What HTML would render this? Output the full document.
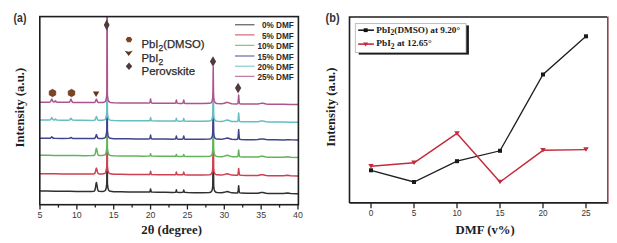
<!DOCTYPE html>
<html><head><meta charset="utf-8"><style>
html,body{margin:0;padding:0;background:#fff;width:617px;height:243px;overflow:hidden}
svg{display:block}
.sans{font-family:"Liberation Sans",sans-serif}
.serif{font-family:"Liberation Serif",serif}
</style></head><body>
<svg width="617" height="243" viewBox="0 0 617 243">
<rect width="617" height="243" fill="#fff"/>
<text x="13.6" y="22.1" class="sans" font-size="13" font-weight="bold" fill="#333" textLength="12.8" lengthAdjust="spacingAndGlyphs">(a)</text>
<defs><clipPath id="ca"><rect x="39.8" y="16.6" width="258.60" height="188.10"/></clipPath></defs>
<g clip-path="url(#ca)">
<clipPath id="tc0"><polygon points="38,174.00 40.00,174.00 47.37,174.06 54.74,174.12 62.11,174.18 69.49,174.25 76.86,174.30 84.23,174.36 91.60,174.35 93.92,174.19 94.77,173.73 95.29,172.60 96.10,169.03 96.39,168.44 96.69,169.03 97.72,173.22 98.20,173.92 98.97,174.21 102.55,174.26 104.65,173.77 105.24,173.29 105.68,172.59 106.34,170.05 107.08,165.56 108.04,171.22 108.81,173.20 109.44,173.78 110.32,174.15 113.71,174.51 121.09,174.66 128.46,174.74 135.83,174.81 143.20,174.87 149.58,174.75 149.98,174.20 150.57,171.54 151.16,174.21 151.57,174.77 157.94,175.00 165.31,175.06 172.69,175.11 175.52,174.93 175.82,174.45 176.37,172.35 176.92,174.46 177.22,174.94 180.06,175.17 182.90,174.99 183.19,174.51 183.74,172.41 184.30,174.52 184.59,175.00 187.43,175.24 194.80,175.30 202.17,175.34 209.54,175.10 211.02,174.56 211.86,173.43 212.38,171.59 213.23,166.48 214.08,171.61 214.59,173.45 215.44,174.59 216.91,175.16 221.48,175.42 224.29,174.91 226.24,174.20 227.42,174.08 231.66,175.41 235.82,175.61 237.11,175.52 237.70,175.28 238.11,173.94 238.66,168.69 239.03,172.19 239.32,174.59 239.80,175.43 241.31,175.66 246.40,175.75 253.77,175.82 257.79,175.74 261.14,175.09 262.84,175.03 266.16,175.74 268.51,175.93 275.89,176.01 283.26,176.04 287.57,175.51 290.63,175.97 298.00,176.20 300,176.20 300,210 38,210"/></clipPath><g clip-path="url(#tc0)"><path d="M40.00,191.00 47.37,191.08 54.74,191.16 62.11,191.24 69.49,191.31 76.86,191.39 84.23,191.45 91.60,191.44 93.92,191.20 94.40,190.96 94.77,190.50 95.29,188.82 96.10,183.46 96.39,182.57 96.69,183.46 97.72,189.75 98.20,190.79 98.97,191.24 102.40,191.39 103.73,191.23 104.65,190.91 105.24,190.44 105.68,189.73 106.34,187.20 106.75,183.94 106.82,179.26 107.01,8.00 107.15,8.00 107.41,183.95 108.04,188.37 108.41,189.60 108.89,190.45 109.51,190.98 110.40,191.33 113.71,191.68 121.09,191.85 128.46,191.95 135.83,192.03 143.20,192.11 149.58,192.02 149.98,191.50 150.57,188.99 151.16,191.52 151.57,192.04 157.94,192.27 165.31,192.35 172.69,192.42 175.52,192.25 175.82,191.81 176.37,189.83 176.92,191.82 177.22,192.27 180.06,192.49 182.90,192.33 183.19,191.89 183.74,189.91 184.30,191.90 184.59,192.35 187.43,192.58 194.80,192.66 202.17,192.72 209.54,192.49 210.91,192.03 211.75,191.06 212.34,189.18 212.75,186.29 213.23,132.88 213.71,186.30 214.11,189.20 214.70,191.09 215.55,192.08 216.91,192.57 221.48,192.85 224.29,192.34 226.24,191.63 227.42,191.51 231.66,192.85 235.90,193.06 237.15,192.96 237.70,192.71 238.11,191.27 238.66,185.65 239.03,189.40 239.32,191.97 239.80,192.87 241.31,193.12 246.40,193.23 253.77,193.31 257.79,193.24 261.14,192.60 262.84,192.55 266.16,193.26 268.51,193.46 275.89,193.56 283.26,193.60 287.57,193.09 290.63,193.55 298.00,193.80" fill="none" stroke="#303030" stroke-width="1.5" stroke-linejoin="round"/></g>
<clipPath id="tc1"><polygon points="38,155.60 40.00,155.60 47.37,155.66 54.74,155.72 62.11,155.78 69.49,155.83 76.86,155.89 84.23,155.94 91.60,155.92 93.92,155.71 94.77,155.13 95.29,153.72 96.10,149.26 96.39,148.52 96.69,149.26 97.72,154.49 98.20,155.36 98.97,155.73 102.47,155.83 104.65,155.34 105.24,154.86 105.68,154.16 106.34,151.62 107.08,147.13 108.04,152.79 108.81,154.77 109.44,155.35 110.32,155.72 113.71,156.08 121.09,156.23 128.46,156.31 135.83,156.37 143.20,156.43 149.58,156.36 149.98,155.98 150.57,154.10 151.16,155.99 151.57,156.38 157.94,156.55 165.31,156.61 172.69,156.67 175.52,156.54 175.82,156.20 176.37,154.72 176.92,156.21 177.22,156.55 180.06,156.72 182.90,156.60 183.19,156.26 183.74,154.78 184.30,156.27 184.59,156.61 187.43,156.78 194.80,156.84 202.17,156.88 209.54,156.63 211.02,156.09 211.86,154.96 212.38,153.13 213.23,148.01 214.08,153.14 214.59,154.98 215.44,156.13 216.91,156.69 221.48,156.95 224.29,156.44 226.24,155.73 227.42,155.60 231.66,156.93 235.82,157.14 237.11,157.05 237.70,156.80 238.11,155.46 238.66,150.21 239.03,153.71 239.32,156.11 239.80,156.95 241.31,157.18 246.40,157.27 253.77,157.33 257.79,157.25 261.14,156.60 262.84,156.54 266.16,157.25 268.51,157.44 275.89,157.52 283.26,157.54 287.57,157.01 290.63,157.47 298.00,157.70 300,157.70 300,210 38,210"/></clipPath><g clip-path="url(#tc1)"><path d="M40.00,173.70 47.37,173.76 54.74,173.82 62.11,173.88 69.49,173.95 76.86,174.00 84.23,174.06 91.60,174.05 93.92,173.89 94.77,173.43 95.29,172.30 96.10,168.73 96.39,168.14 96.69,168.73 97.72,172.92 98.20,173.62 98.97,173.91 102.55,173.96 104.65,173.47 105.24,172.99 105.68,172.29 106.34,169.75 106.75,166.49 106.82,161.82 106.97,23.07 107.01,8.00 107.15,8.00 107.41,166.50 108.04,170.92 108.41,172.15 108.89,172.99 109.51,173.53 110.40,173.87 113.71,174.21 121.09,174.36 128.46,174.44 135.83,174.51 143.20,174.57 149.58,174.45 149.98,173.90 150.57,171.24 151.16,173.91 151.57,174.47 157.94,174.70 165.31,174.76 172.69,174.81 175.52,174.63 175.82,174.15 176.37,172.05 176.92,174.16 177.22,174.64 180.06,174.87 182.90,174.69 183.19,174.21 183.74,172.11 184.30,174.22 184.59,174.70 187.43,174.94 194.80,175.00 202.17,175.04 209.54,174.80 210.91,174.33 211.75,173.36 212.31,171.66 212.75,168.61 213.23,120.18 213.71,168.62 214.15,171.67 214.70,173.39 215.55,174.37 216.91,174.86 221.48,175.12 224.29,174.61 226.24,173.90 227.42,173.78 231.66,175.11 235.82,175.31 237.11,175.22 237.70,174.98 238.11,173.64 238.66,168.39 239.03,171.89 239.32,174.29 239.80,175.13 241.31,175.36 246.40,175.45 253.77,175.52 257.79,175.44 261.14,174.79 262.84,174.73 266.16,175.44 268.51,175.63 275.89,175.71 283.26,175.74 287.57,175.21 290.63,175.67 298.00,175.90" fill="none" stroke="#cc4050" stroke-width="1.5" stroke-linejoin="round"/></g>
<clipPath id="tc2"><polygon points="38,138.60 40.00,138.60 47.37,138.63 50.32,138.49 51.79,137.17 53.12,138.45 54.74,138.66 62.11,138.74 69.49,138.67 70.96,137.80 72.54,138.71 76.86,138.83 84.23,138.87 91.60,138.88 94.03,138.78 94.88,138.49 95.36,137.77 96.39,134.93 97.64,138.19 98.12,138.62 98.97,138.79 102.73,138.74 104.68,138.23 105.24,137.78 105.68,137.07 106.34,134.53 107.08,130.03 108.04,135.70 108.81,137.67 109.44,138.25 110.32,138.62 113.71,138.97 121.09,139.11 128.46,139.17 135.83,139.22 143.20,139.27 148.21,139.27 149.58,139.11 149.98,138.46 150.57,135.32 151.16,138.47 151.57,139.12 152.93,139.30 157.94,139.37 165.31,139.42 172.69,139.45 174.82,139.41 175.52,139.22 175.82,138.66 176.37,136.19 176.92,138.67 177.22,139.23 177.92,139.43 180.06,139.49 182.19,139.45 182.90,139.27 183.19,138.71 183.74,136.24 184.30,138.72 184.59,139.28 185.29,139.48 187.43,139.55 194.80,139.60 202.17,139.63 209.54,139.37 211.02,138.83 211.86,137.70 212.38,135.86 213.23,130.74 214.08,135.87 214.59,137.71 215.44,138.85 216.91,139.42 221.48,139.67 224.29,139.15 226.24,138.44 227.42,138.31 231.66,139.63 236.08,139.80 237.19,139.65 237.70,139.32 238.11,137.40 238.66,129.90 239.03,134.90 239.32,138.33 239.51,139.12 239.80,139.52 241.31,139.84 246.40,139.95 253.77,140.00 257.79,139.91 261.14,139.26 262.84,139.20 266.16,139.90 268.51,140.09 275.89,140.15 283.26,140.18 287.57,139.93 290.63,140.17 298.00,140.30 300,140.30 300,210 38,210"/></clipPath><g clip-path="url(#tc2)"><path d="M40.00,155.30 47.37,155.36 54.74,155.42 62.11,155.48 69.49,155.53 76.86,155.59 84.23,155.64 91.60,155.62 93.92,155.41 94.77,154.83 95.29,153.42 96.10,148.96 96.39,148.22 96.69,148.96 97.72,154.19 98.20,155.06 98.97,155.43 102.47,155.53 104.65,155.04 105.24,154.56 105.68,153.86 106.34,151.32 106.75,148.07 106.82,143.39 106.97,8.00 107.19,8.00 107.41,148.07 108.04,152.49 108.41,153.72 108.89,154.56 109.51,155.10 110.40,155.44 113.71,155.78 121.09,155.93 128.46,156.01 135.83,156.07 143.20,156.13 149.58,156.06 149.98,155.68 150.57,153.80 151.16,155.69 151.57,156.08 157.94,156.25 165.31,156.31 172.69,156.37 175.52,156.24 175.82,155.90 176.37,154.42 176.92,155.91 177.22,156.25 180.06,156.42 182.90,156.30 183.19,155.96 183.74,154.48 184.30,155.97 184.59,156.31 187.43,156.48 194.80,156.54 202.17,156.58 209.54,156.33 210.91,155.87 211.75,154.90 212.31,153.19 212.75,150.17 213.23,106.71 213.71,150.18 214.15,153.20 214.70,154.92 215.55,155.90 216.91,156.39 221.48,156.65 224.29,156.14 226.24,155.43 227.42,155.30 231.66,156.63 235.82,156.84 237.11,156.75 237.70,156.50 238.11,155.16 238.66,149.91 239.03,153.41 239.32,155.81 239.80,156.65 241.31,156.88 246.40,156.97 253.77,157.03 257.79,156.95 261.14,156.30 262.84,156.24 266.16,156.95 268.51,157.14 275.89,157.22 283.26,157.24 287.57,156.71 290.63,157.17 298.00,157.40" fill="none" stroke="#62b45a" stroke-width="1.5" stroke-linejoin="round"/></g>
<clipPath id="tc3"><polygon points="38,120.29 40.00,120.29 47.37,120.33 49.55,120.27 50.32,120.09 50.80,119.60 51.79,117.89 53.16,120.02 54.01,120.25 54.74,120.00 55.48,119.39 56.36,120.16 56.88,120.35 62.11,120.47 68.01,120.48 69.49,120.31 70.96,118.56 71.99,119.99 72.54,120.38 76.86,120.59 84.23,120.66 91.60,120.68 94.03,120.59 94.88,120.30 95.36,119.58 96.39,116.74 97.64,120.00 98.12,120.44 98.97,120.61 102.73,120.56 104.68,120.06 105.24,119.60 105.68,118.90 106.34,116.36 107.08,111.86 108.04,117.53 108.81,119.50 109.44,120.09 110.32,120.45 113.71,120.81 121.09,120.96 128.46,121.04 135.83,121.11 143.20,121.17 149.58,121.05 149.98,120.50 150.57,117.84 151.16,120.51 151.57,121.07 157.94,121.30 165.31,121.36 172.69,121.41 175.52,121.23 175.82,120.75 176.37,118.65 176.92,120.76 177.22,121.24 180.06,121.47 182.90,121.29 183.19,120.81 183.74,118.71 184.30,120.82 184.59,121.30 187.43,121.54 194.80,121.60 202.17,121.64 209.54,121.40 211.02,120.86 211.86,119.73 212.38,117.89 213.23,112.78 214.08,117.91 214.59,119.75 215.44,120.89 216.91,121.46 221.48,121.72 224.29,121.21 226.24,120.50 227.42,120.38 231.66,121.71 236.08,121.90 237.26,121.79 237.78,121.51 238.14,119.96 238.66,113.19 239.03,118.17 239.32,120.96 239.77,121.70 241.24,121.95 246.40,122.05 253.77,122.12 257.79,122.04 261.14,121.39 262.84,121.33 266.16,122.04 268.51,122.23 275.89,122.31 283.26,122.37 290.63,122.44 298.00,122.50 300,122.50 300,210 38,210"/></clipPath><g clip-path="url(#tc3)"><path d="M40.00,138.30 47.37,138.33 50.32,138.19 51.79,136.87 53.12,138.15 54.74,138.36 62.11,138.44 69.49,138.37 70.96,137.50 72.54,138.41 76.86,138.53 84.23,138.57 91.60,138.58 94.03,138.48 94.88,138.19 95.36,137.47 96.39,134.63 97.64,137.89 98.12,138.32 98.97,138.49 102.73,138.44 104.68,137.93 105.24,137.48 105.68,136.77 106.34,134.23 106.75,130.97 106.82,126.29 106.97,8.00 107.19,8.00 107.41,130.98 108.04,135.40 108.41,136.62 108.89,137.46 109.51,138.00 110.40,138.33 113.71,138.67 121.09,138.81 128.46,138.87 135.83,138.92 143.20,138.97 148.21,138.97 149.58,138.81 149.98,138.16 150.57,135.02 151.16,138.17 151.57,138.82 152.93,139.00 157.94,139.07 165.31,139.12 172.69,139.15 174.82,139.11 175.52,138.92 175.82,138.36 176.37,135.89 176.92,138.37 177.22,138.93 177.92,139.13 180.06,139.19 182.19,139.15 182.90,138.97 183.19,138.41 183.74,135.94 184.30,138.42 184.59,138.98 185.29,139.18 187.43,139.25 194.80,139.30 202.17,139.33 209.54,139.07 210.91,138.60 211.75,137.63 212.31,135.92 212.75,132.93 213.23,94.44 213.71,132.93 214.15,135.93 214.70,137.65 215.55,138.63 216.91,139.12 221.48,139.37 224.29,138.85 226.24,138.14 227.42,138.01 231.66,139.33 236.08,139.50 237.19,139.35 237.70,139.02 238.11,137.10 238.66,129.60 239.03,134.60 239.32,138.03 239.51,138.82 239.80,139.22 241.31,139.54 246.40,139.65 253.77,139.70 257.79,139.61 261.14,138.96 262.84,138.90 266.16,139.60 268.51,139.79 275.89,139.85 283.26,139.88 287.57,139.63 290.63,139.87 298.00,140.00" fill="none" stroke="#40448a" stroke-width="1.5" stroke-linejoin="round"/></g>
<clipPath id="tc4"><polygon points="38,102.49 40.00,102.49 47.37,102.52 49.55,102.44 50.32,102.19 50.80,101.56 51.79,99.29 53.16,102.09 54.04,102.39 54.74,102.01 55.48,101.08 56.36,102.23 56.88,102.51 62.11,102.67 68.05,102.66 69.49,102.37 69.96,101.73 70.96,99.47 71.99,101.82 72.54,102.47 73.61,102.70 76.86,102.80 84.23,102.87 91.60,102.90 94.03,102.82 94.88,102.57 95.36,101.94 96.39,99.46 97.64,102.31 98.12,102.70 98.97,102.84 102.73,102.79 104.68,102.29 105.24,101.83 105.68,101.12 106.34,98.58 107.08,94.09 108.04,99.75 108.81,101.73 109.44,102.31 110.32,102.68 113.71,103.04 121.09,103.20 128.46,103.28 135.83,103.35 143.20,103.41 148.21,103.42 149.58,103.25 149.98,102.58 150.57,99.28 151.16,102.59 151.57,103.27 152.93,103.46 157.94,103.54 165.31,103.61 172.69,103.66 174.82,103.62 175.52,103.43 175.82,102.84 176.37,100.24 176.92,102.85 177.22,103.44 177.92,103.64 180.06,103.72 182.19,103.68 182.90,103.49 183.19,102.90 183.74,100.31 184.30,102.91 184.59,103.51 185.29,103.71 187.43,103.79 194.80,103.86 202.17,103.90 209.54,103.66 211.02,103.12 211.86,102.00 212.38,100.16 213.23,95.04 214.08,100.18 214.59,102.02 215.44,103.16 216.91,103.73 221.48,103.99 224.29,103.48 226.24,102.77 227.42,102.65 231.66,103.98 236.08,104.18 237.26,104.06 237.78,103.77 238.14,102.19 238.66,95.26 239.03,100.36 239.32,103.21 239.77,103.97 241.24,104.23 246.40,104.33 253.77,104.40 257.79,104.32 261.14,103.67 262.84,103.61 266.16,104.32 268.51,104.52 275.89,104.60 283.26,104.67 290.63,104.73 298.00,104.80 300,104.80 300,210 38,210"/></clipPath><g clip-path="url(#tc4)"><path d="M40.00,119.99 47.37,120.03 49.55,119.97 50.32,119.79 50.80,119.30 51.79,117.59 53.16,119.72 54.01,119.95 54.74,119.70 55.48,119.09 56.36,119.86 56.88,120.05 62.11,120.17 68.01,120.18 69.49,120.01 70.96,118.26 71.99,119.69 72.54,120.08 76.86,120.29 84.23,120.36 91.60,120.38 94.03,120.29 94.88,120.00 95.36,119.28 96.39,116.44 97.64,119.70 98.12,120.14 98.97,120.31 102.73,120.26 104.68,119.76 105.24,119.30 105.68,118.60 106.34,116.06 106.75,112.80 106.82,108.12 106.97,8.00 107.19,8.00 107.41,112.81 108.04,117.23 108.41,118.45 108.89,119.30 109.51,119.83 110.40,120.17 113.71,120.51 121.09,120.66 128.46,120.74 135.83,120.81 143.20,120.87 149.58,120.75 149.98,120.20 150.57,117.54 151.16,120.21 151.57,120.77 157.94,121.00 165.31,121.06 172.69,121.11 175.52,120.93 175.82,120.45 176.37,118.35 176.92,120.46 177.22,120.94 180.06,121.17 182.90,120.99 183.19,120.51 183.74,118.41 184.30,120.52 184.59,121.00 187.43,121.24 194.80,121.30 202.17,121.34 209.54,121.10 210.91,120.63 211.75,119.66 212.31,117.96 212.75,114.98 213.23,79.48 213.71,114.99 214.15,117.97 214.70,119.69 215.55,120.67 216.91,121.16 221.48,121.42 224.29,120.91 226.24,120.20 227.42,120.08 231.66,121.41 236.08,121.60 237.26,121.49 237.78,121.21 238.14,119.66 238.66,112.89 239.03,117.87 239.32,120.66 239.77,121.40 241.24,121.65 246.40,121.75 253.77,121.82 257.79,121.74 261.14,121.09 262.84,121.03 266.16,121.74 268.51,121.93 275.89,122.01 283.26,122.07 290.63,122.14 298.00,122.20" fill="none" stroke="#66bec0" stroke-width="1.5" stroke-linejoin="round"/></g>
<path d="M40.00,102.19 47.37,102.22 49.55,102.14 50.32,101.89 50.80,101.26 51.79,98.99 53.16,101.79 54.04,102.09 54.74,101.71 55.48,100.78 56.36,101.93 56.88,102.21 62.11,102.37 68.05,102.36 69.49,102.07 69.96,101.43 70.96,99.17 71.99,101.52 72.54,102.17 73.61,102.40 76.86,102.50 84.23,102.57 91.60,102.60 94.03,102.52 94.88,102.27 95.36,101.64 96.39,99.16 97.64,102.01 98.12,102.40 98.97,102.54 102.73,102.49 104.68,101.99 105.24,101.53 105.68,100.82 106.34,98.28 106.75,95.03 106.82,90.35 106.97,8.00 107.19,8.00 107.41,95.03 108.04,99.45 108.41,100.68 108.89,101.52 109.51,102.06 110.40,102.40 113.71,102.74 121.09,102.90 128.46,102.98 135.83,103.05 143.20,103.11 148.21,103.12 149.58,102.95 149.98,102.28 150.57,98.98 151.16,102.29 151.57,102.97 152.93,103.16 157.94,103.24 165.31,103.31 172.69,103.36 174.82,103.32 175.52,103.13 175.82,102.54 176.37,99.94 176.92,102.55 177.22,103.14 177.92,103.34 180.06,103.42 182.19,103.38 182.90,103.19 183.19,102.60 183.74,100.01 184.30,102.61 184.59,103.21 185.29,103.41 187.43,103.49 194.80,103.56 202.17,103.60 209.54,103.36 210.91,102.90 211.72,102.00 212.27,100.39 212.71,97.64 212.93,92.19 213.23,66.74 213.52,92.20 213.74,97.65 214.19,100.41 214.74,102.03 215.55,102.94 216.91,103.43 221.48,103.69 224.29,103.18 226.24,102.47 227.42,102.35 231.66,103.68 236.08,103.88 237.26,103.76 237.78,103.47 238.14,101.89 238.66,94.96 239.03,100.06 239.32,102.91 239.77,103.67 241.24,103.93 246.40,104.03 253.77,104.10 257.79,104.02 261.14,103.37 262.84,103.31 266.16,104.02 268.51,104.22 275.89,104.30 283.26,104.37 290.63,104.43 298.00,104.50" fill="none" stroke="#ac5490" stroke-width="1.5" stroke-linejoin="round"/>
</g>
<rect x="39.8" y="16.6" width="258.60" height="188.10" fill="none" stroke="#1e1e1e" stroke-width="1.6"/>
<line x1="40.00" y1="204.7" x2="40.00" y2="209.5" stroke="#222" stroke-width="1.3"/>
<line x1="58.43" y1="204.7" x2="58.43" y2="207.6" stroke="#222" stroke-width="1.3"/>
<line x1="76.86" y1="204.7" x2="76.86" y2="209.5" stroke="#222" stroke-width="1.3"/>
<line x1="95.29" y1="204.7" x2="95.29" y2="207.6" stroke="#222" stroke-width="1.3"/>
<line x1="113.71" y1="204.7" x2="113.71" y2="209.5" stroke="#222" stroke-width="1.3"/>
<line x1="132.14" y1="204.7" x2="132.14" y2="207.6" stroke="#222" stroke-width="1.3"/>
<line x1="150.57" y1="204.7" x2="150.57" y2="209.5" stroke="#222" stroke-width="1.3"/>
<line x1="169.00" y1="204.7" x2="169.00" y2="207.6" stroke="#222" stroke-width="1.3"/>
<line x1="187.43" y1="204.7" x2="187.43" y2="209.5" stroke="#222" stroke-width="1.3"/>
<line x1="205.86" y1="204.7" x2="205.86" y2="207.6" stroke="#222" stroke-width="1.3"/>
<line x1="224.29" y1="204.7" x2="224.29" y2="209.5" stroke="#222" stroke-width="1.3"/>
<line x1="242.71" y1="204.7" x2="242.71" y2="207.6" stroke="#222" stroke-width="1.3"/>
<line x1="261.14" y1="204.7" x2="261.14" y2="209.5" stroke="#222" stroke-width="1.3"/>
<line x1="279.57" y1="204.7" x2="279.57" y2="207.6" stroke="#222" stroke-width="1.3"/>
<line x1="298.00" y1="204.7" x2="298.00" y2="209.5" stroke="#222" stroke-width="1.3"/>
<g class="sans" font-size="8.8" fill="#3a3a3a"><text x="40.00" y="217.8" text-anchor="middle">5</text><text x="76.86" y="217.8" text-anchor="middle">10</text><text x="113.71" y="217.8" text-anchor="middle">15</text><text x="150.57" y="217.8" text-anchor="middle">20</text><text x="187.43" y="217.8" text-anchor="middle">25</text><text x="224.29" y="217.8" text-anchor="middle">30</text><text x="261.14" y="217.8" text-anchor="middle">35</text><text x="298.00" y="217.8" text-anchor="middle">40</text></g>
<polygon points="125.70,39.60 127.35,37.00 130.65,37.00 132.30,39.60 130.65,42.20 127.35,42.20" fill="#7e4422"/>
<polygon points="124.70,50.70 128.70,51.70 132.70,50.70 128.70,56.10" fill="#603618"/>
<polygon points="129.00,62.55 132.25,66.30 129.00,70.05 125.75,66.30" fill="#503a3a"/>
<g class="sans" font-size="11.3" fill="#2a2a2a" stroke="#2a2a2a" stroke-width="0.25">
<text x="141.5" y="48.2">PbI<tspan font-size="8.5" dy="3">2</tspan><tspan dy="-3">(DMSO)</tspan></text>
<text x="141.5" y="61.8">PbI<tspan font-size="8.5" dy="3">2</tspan></text>
<text x="141.5" y="75.1" textLength="53.6" lengthAdjust="spacingAndGlyphs">Perovskite</text>
</g>
<polygon points="52.50,89.25 55.80,91.12 55.80,94.88 52.50,96.75 49.20,94.88 49.20,91.12" fill="#7e4422" stroke="#5c3418" stroke-width="0.6"/>
<polygon points="71.50,89.25 74.80,91.12 74.80,94.88 71.50,96.75 68.20,94.88 68.20,91.12" fill="#7e4422" stroke="#5c3418" stroke-width="0.6"/>
<polygon points="92.90,91.40 99.30,91.40 96.10,97.00" fill="#603618"/>
<polygon points="106.70,19.40 109.60,24.90 106.70,30.40 103.80,24.90" fill="#503a3a"/>
<polygon points="213.00,56.25 216.10,61.50 213.00,66.75 209.90,61.50" fill="#503a3a"/>
<polygon points="238.10,82.85 241.25,88.10 238.10,93.35 234.95,88.10" fill="#503a3a"/>
<g class="sans" font-size="8.2" font-weight="bold" fill="#2a2a2a">
<line x1="235" y1="24.8" x2="254.5" y2="24.8" stroke="#303030" stroke-width="0.95"/>
<text x="293.8" y="28.4" text-anchor="end">0% DMF</text>
<line x1="235" y1="34.9" x2="254.5" y2="34.9" stroke="#cc4050" stroke-width="0.95"/>
<text x="293.8" y="38.5" text-anchor="end">5% DMF</text>
<line x1="235" y1="45.3" x2="254.5" y2="45.3" stroke="#62b45a" stroke-width="0.95"/>
<text x="293.8" y="48.9" text-anchor="end">10% DMF</text>
<line x1="235" y1="56.0" x2="254.5" y2="56.0" stroke="#40448a" stroke-width="0.95"/>
<text x="293.8" y="59.6" text-anchor="end">15% DMF</text>
<line x1="235" y1="66.2" x2="254.5" y2="66.2" stroke="#66bec0" stroke-width="0.95"/>
<text x="293.8" y="69.8" text-anchor="end">20% DMF</text>
<line x1="235" y1="76.3" x2="254.5" y2="76.3" stroke="#ac5490" stroke-width="0.95"/>
<text x="293.8" y="79.9" text-anchor="end">25% DMF</text>
</g>
<text transform="translate(23.8,107.7) rotate(-90)" text-anchor="middle" class="serif" font-size="12.7" font-weight="bold" fill="#1e1e1e" textLength="79.8" lengthAdjust="spacingAndGlyphs">Intensity (a.u.)</text>
<text x="141.3" y="233.7" class="serif" font-size="12.3" font-weight="bold" fill="#1e1e1e" textLength="60.6" lengthAdjust="spacingAndGlyphs">2θ (degree)</text>

<text x="325.6" y="22.3" class="sans" font-size="13" font-weight="bold" fill="#333" textLength="14" lengthAdjust="spacingAndGlyphs">(b)</text>
<path d="M349.5,202.9 L349.5,17 L607,17" fill="none" stroke="#1e1e1e" stroke-width="1.6"/>
<path d="M349.5,202.9 L607.8,202.9" fill="none" stroke="#1e1e1e" stroke-width="1.6"/>
<path d="M607.8,16.4 L607.8,203.70000000000002" fill="none" stroke="#94404f" stroke-width="1.6"/>
<line x1="371.00" y1="202.9" x2="371.00" y2="208.2" stroke="#222" stroke-width="1.3"/>
<line x1="414.00" y1="202.9" x2="414.00" y2="208.2" stroke="#222" stroke-width="1.3"/>
<line x1="457.00" y1="202.9" x2="457.00" y2="208.2" stroke="#222" stroke-width="1.3"/>
<line x1="500.00" y1="202.9" x2="500.00" y2="208.2" stroke="#222" stroke-width="1.3"/>
<line x1="543.00" y1="202.9" x2="543.00" y2="208.2" stroke="#222" stroke-width="1.3"/>
<line x1="586.00" y1="202.9" x2="586.00" y2="208.2" stroke="#222" stroke-width="1.3"/>
<g class="sans" font-size="8.2" fill="#333"><text x="371.00" y="215.7" text-anchor="middle">0</text><text x="414.00" y="215.7" text-anchor="middle">5</text><text x="457.00" y="215.7" text-anchor="middle">10</text><text x="500.00" y="215.7" text-anchor="middle">15</text><text x="543.00" y="215.7" text-anchor="middle">20</text><text x="586.00" y="215.7" text-anchor="middle">25</text></g>
<path d="M371.00,170.30 L414.00,182.00 L457.00,161.20 L500.00,150.80 L543.00,74.50 L586.00,36.30" fill="none" stroke="#1e1e1e" stroke-width="1.3"/>
<rect x="369.00" y="168.30" width="4" height="4" fill="#1a1a1a"/><rect x="412.00" y="180.00" width="4" height="4" fill="#1a1a1a"/><rect x="455.00" y="159.20" width="4" height="4" fill="#1a1a1a"/><rect x="498.00" y="148.80" width="4" height="4" fill="#1a1a1a"/><rect x="541.00" y="72.50" width="4" height="4" fill="#1a1a1a"/><rect x="584.00" y="34.30" width="4" height="4" fill="#1a1a1a"/>
<path d="M371.00,166.20 L414.00,162.80 L457.00,133.40 L500.00,182.00 L537.2,154.6 543.00,150.30 L586.00,149.60" fill="none" stroke="#c42a3a" stroke-width="1.45" stroke-linejoin="round"/>
<polygon points="368.25,163.95 373.75,163.95 371.00,168.45" fill="#c42a3a"/><polygon points="411.25,160.55 416.75,160.55 414.00,165.05" fill="#c42a3a"/><polygon points="454.25,131.15 459.75,131.15 457.00,135.65" fill="#c42a3a"/><polygon points="497.25,179.75 502.75,179.75 500.00,184.25" fill="#c42a3a"/><polygon points="540.25,148.05 545.75,148.05 543.00,152.55" fill="#c42a3a"/><polygon points="583.25,147.35 588.75,147.35 586.00,151.85" fill="#c42a3a"/>
<rect x="358.7" y="25.4" width="110.2" height="29.2" fill="#1a1a1a"/>
<rect x="355.3" y="23.6" width="110.7" height="28.9" fill="#fff" stroke="#b0b0b0" stroke-width="0.8"/>
<line x1="358.2" y1="30.2" x2="373.9" y2="30.2" stroke="#1e1e1e" stroke-width="1.6"/>
<rect x="363.7" y="28.3" width="4" height="3.8" fill="#111"/>
<line x1="358.2" y1="44.1" x2="373.9" y2="44.1" stroke="#c42a3a" stroke-width="1.6"/>
<polygon points="363.20,42.50 368.20,42.50 365.70,46.50" fill="#c42a3a"/>
<g class="serif" font-size="9.2" font-weight="bold" fill="#1a1a1a">
<text x="376.3" y="32.9" textLength="83.8" lengthAdjust="spacingAndGlyphs">PbI<tspan font-size="7.5" dy="2.2">2</tspan><tspan dy="-2.2">(DMSO) at 9.20°</tspan></text>
<text x="376.3" y="45.5" textLength="55.4" lengthAdjust="spacingAndGlyphs">PbI<tspan font-size="7.5" dy="3">2</tspan><tspan dy="-3"> at 12.65°</tspan></text>
</g>
<text transform="translate(335.3,107.2) rotate(-90)" text-anchor="middle" class="serif" font-size="12.55" font-weight="bold" fill="#1e1e1e" textLength="79.2" lengthAdjust="spacingAndGlyphs">Intensity (a.u.)</text>
<text x="455.6" y="234" class="serif" font-size="12.3" font-weight="bold" fill="#1e1e1e" textLength="59.2" lengthAdjust="spacingAndGlyphs">DMF (v%)</text>
</svg>
</body></html>
